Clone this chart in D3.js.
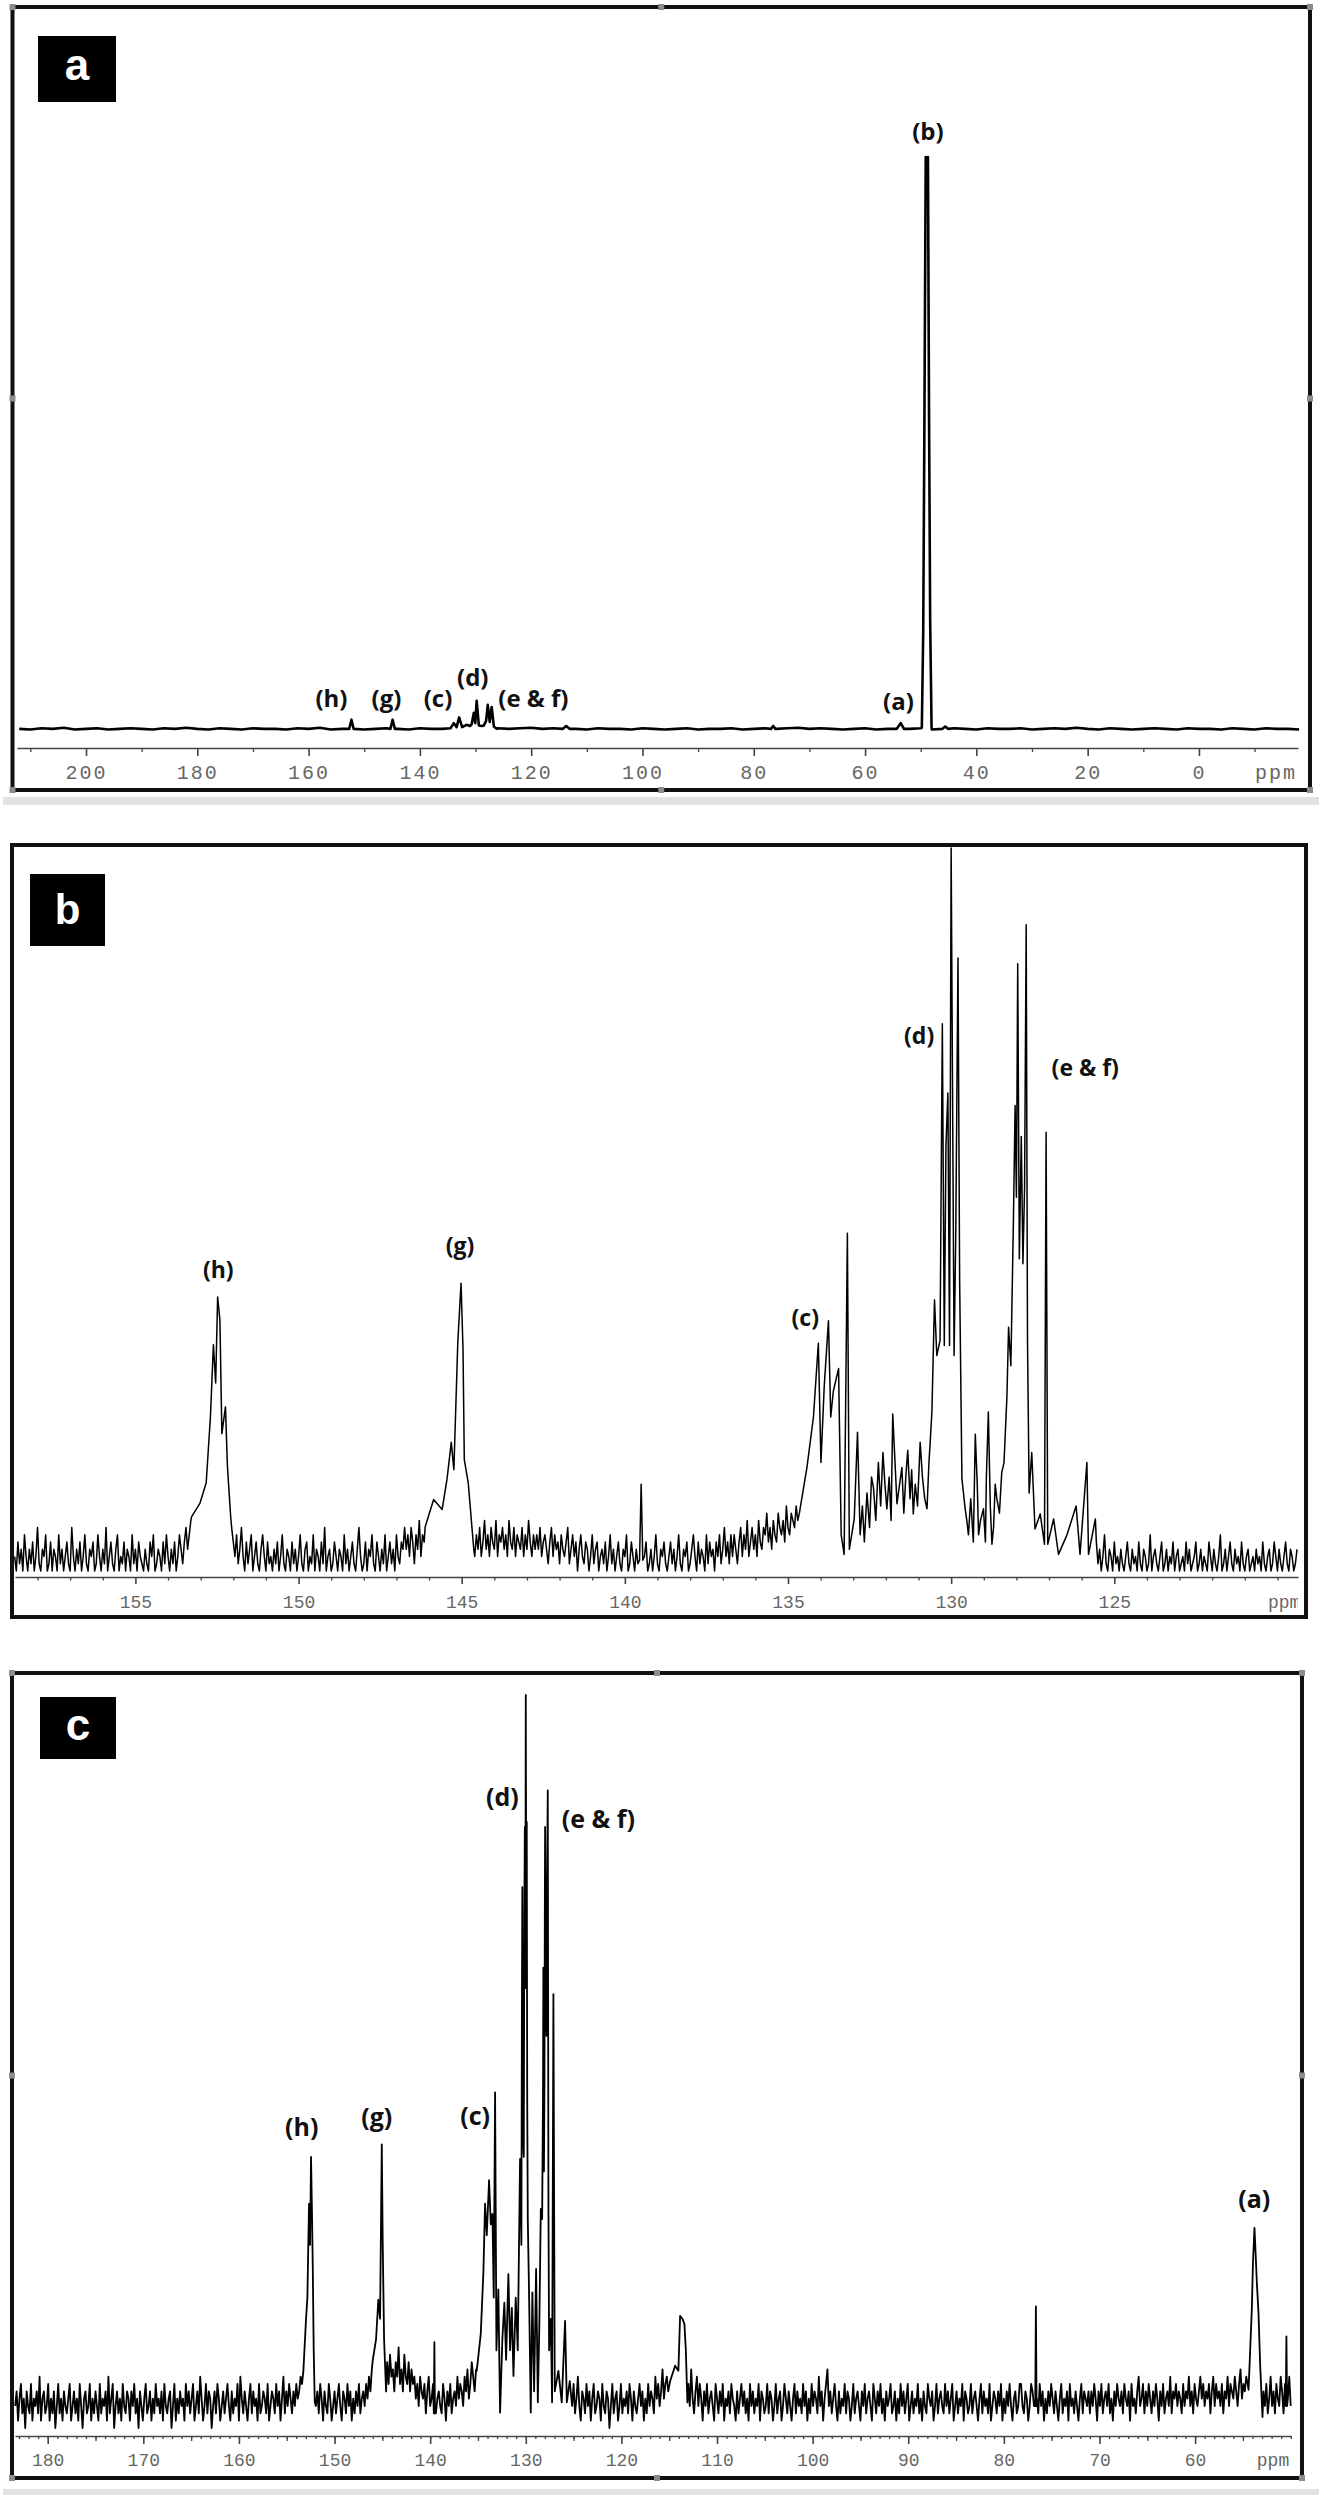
<!DOCTYPE html>
<html>
<head>
<meta charset="utf-8">
<script src="https://cdn.jsdelivr.net/npm/d3@7"></script>
<style>
  body { margin: 0; background: #fff; }
  svg { display: block; }
</style>
</head>
<body>
<svg id="chart" width="1322" height="2495"></svg>
<script>
// ---------- panel a : full range spectrum ----------
var aMajorTicks = [200, 180, 160, 140, 120, 100, 80, 60, 40, 20, 0];
var aMinorTicks = [210, 190, 170, 150, 130, 110, 90, 70, 50, 30, 10, -10];
// baseline jitter, one value every 2 ppm starting at 212 ppm
var aNoiseStep = 2;
var aNoiseStarts = [212];
var aNoise = [[
  0.2,0.1,0.3,0.2,0.4,0.1,0.2,0.3,0.1,0.2,
  0.3,0.2,0.1,0.3,0.2,0.4,0.2,0.1,0.3,0.2,
  0.1,0.3,0.2,0.2,0.1,0.3,0.2,0.4,0.1,0.2,
  0.3,0.1,0.2,0.3,0.2,0.1,0.3,0.2,0.2,0.4,
  0.3,0.2,0.4,0.3,0.2,0.3,0.4,0.2,0.3,0.2,
  0.2,0.1,0.3,0.2,0.2,0.1,0.3,0.2,0.1,0.2,
  0.3,0.1,0.2,0.2,0.3,0.1,0.2,0.3,0.2,0.3,
  0.4,0.2,0.3,0.2,0.1,0.2,0.3,0.1,0.2,0.3,
  0.2,0.3,0.1,0.2,0.3,0.2,0.1,0.3,0.2,0.2,
  0.3,0.1,0.2,0.3,0.2,0.4,0.2,0.1,0.3,0.2,
  0.1,0.2,0.3,0.2,0.1,0.3,0.2,0.2,0.1,0.3,
  0.2,0.1,0.3,0.2,0.2,0.1
]];
// peaks as [ppm, intensity] (tallest = 100)
var aPeaks = [
  [[152.7, 0.2], [152.3, 1.8], [151.9, 0.2]],
  [[145.3, 0.2], [144.9, 1.8], [144.5, 0.2]],
  [[134.5, 0.3], [133.9, 1.2], [133.4, 0.5], [132.95, 2.2], [132.4, 0.5], [131.6, 0.9], [131.0, 0.7]],
  [[130.7, 1.0], [130.3, 3.0], [130.05, 1.2], [129.8, 5.1], [129.4, 0.8], [128.9, 0.7]],
  [[128.5, 0.8], [128.1, 1.6], [127.8, 4.4], [127.45, 1.4], [127.1, 4.0], [126.7, 0.6], [126.2, 0.2]],
  [[114.3, 0.2], [113.7, 0.7], [113.1, 0.2]],
  [[76.9, 0.2], [76.5, 0.7], [76.1, 0.2]],
  [[54.3, 0.2], [53.6, 1.2], [53.0, 0.2]],
  [[49.8, 0.4], [49.55, 17], [49.35, 51], [49.1, 100], [48.9, 97], [48.7, 100], [48.5, 54.5], [48.3, 19], [48.05, 0.4]],
  [[46.1, 0.2], [45.6, 0.6], [45.1, 0.2]]
];
var aLabels = [
  ["(h)", 155.9, 5.2], ["(g)", 146.0, 5.2], ["(c)", 136.75, 5.2], ["(d)", 130.5, 8.9],
  ["(e & f)", 119.6, 5.2], ["(a)", 54.0, 4.7], ["(b)", 48.7, 104.2]
];

// ---------- panel b : aromatic region ----------
var bMajorTicks = [155, 150, 145, 140, 135, 130, 125];
var bMinorTicks = [158, 157, 156, 154, 153, 152, 151, 149, 148, 147, 146, 144, 143, 142, 141,
  139, 138, 137, 136, 134, 133, 132, 131, 129, 128, 127, 126, 124, 123, 122, 121, 120];
// noise read every 0.05 ppm, in stretches between the peaks
var bNoiseStep = 0.05;
var bNoiseStarts = [158.7, 152.05, 144.6, 125.55];
var bNoise = [
  [2,0,4,1,3,0,5,2,0,3,1,4,0,2,6,1,0,3,2,5,0,1,4,0,3,2,0,5,1,3,0,2,4,1,0,6,2,0,3,1,
   4,0,2,5,1,0,3,2,4,0,1,5,2,0,3,1,6,0,2,4,1,0,3,5,0,2,1,4,0,3,2,0,5,1,3,0,4,2,1,0,
   3,1,0,4,2,5,0,1,3,2,0,4,1,5,2,0,3,1,4,0,2,5,3,1,4,6,3,5,7],
  [6,4,2,5,1,3,6,2,0,4,1,3,5,0,2,4,1,0,3,5,2,0,4,1,2,0,3,
   1,4,0,2,5,1,0,3,2,0,4,1,3,0,2,5,1,0,3,4,0,2,1,5,0,3,2,0,4,1,6,0,2,3,0,1,4,2,0,3,
   2,0,5,1,3,0,2,4,1,0,3,6,2,0,1,4,0,3,2,5,1,0,4,2,0,3,1,5,0,2,4,1,3,0,5,2,1,4,3,6,
   3,5,2,6,4,1,5,3,7,2,5,4],
  [2,5,3,6,2,4,7,3,5,2,6,4,3,7,2,5,4,6,3,5,2,7,4,3,6,2,5,4,3,6,2,5,3,7,4,2,5,3,
   5,3,6,2,4,5,3,1,4,6,2,5,3,4,1,5,3,2,4,6,1,3,5,2,4,0,3,5,2,1,4,3,0,2,5,1,3,4,0,2,
   3,1,4,0,2,5,1,3,0,2,4,1,0,3,2,5,0,1,4,2,0,3,1,0,0,0,2,4,0,1,3,0,2,5,1,0,3,2,4,1,
   0,2,4,1,3,0,2,5,1,0,3,2,4,0,1,3,5,2,0,4,1,3,2,0,5,1,4,2,3,0,4,2,5,1,3,6,2,4,1,5,
   2,5,3,1,4,6,2,5,3,7,2,4,6,3,5,2,7,4,3,6,5,8,4,6,3,7,5,4,8,6,5,7,4,9,6,5,8,7,6,9,
   7,8],
  [4,1,3,0,2,5,1,0,3,2,0,4,1,2,0,3,1,
   0,2,4,1,0,3,1,2,0,4,1,0,3,2,0,1,5,0,2,3,1,0,2,4,0,1,3,0,2,1,4,0,2,3,0,1,2,0,4,1,
   3,0,1,2,4,0,1,3,0,2,1,0,4,2,0,3,1,0,2,5,0,1,3,0,2,4,1,0,3,1,2,0,4,1,0,2,3,0,1,2,
   0,3,1,2,0,4,1,0,2,3,0,1,4,2,0,3,1,0,2,4,1,0,3,2,0,1,3]
];
var bPeaks = [
  [[153.28, 7.5], [153.02, 9.4], [152.83, 12.2], [152.70, 21.4], [152.61, 31.3], [152.54, 26],
   [152.48, 37.9], [152.41, 34.7], [152.35, 19], [152.24, 22.7], [152.18, 14.5], [152.08, 7.5]],
  [[146.12, 6.1], [145.86, 9.9], [145.6, 8.5], [145.45, 12.7], [145.32, 17.8], [145.24, 14],
   [145.12, 31.6], [145.02, 39.8], [144.96, 30.7], [144.92, 15.4], [144.80, 12.2], [144.63, 3]],
  [[139.55, 1.5], [139.5, 12], [139.45, 1.5]],
  [[134.63, 8.6], [134.42, 14.3], [134.22, 21.3], [134.07, 31.5], [133.99, 15], [133.89, 25.5],
   [133.76, 34.6], [133.69, 21.3], [133.61, 24.9], [133.45, 28], [133.37, 5], [133.28, 2.3],
   [133.18, 46.7], [133.12, 3], [132.97, 7.2], [132.87, 19.2], [132.79, 5], [132.72, 9],
   [132.66, 4], [132.58, 10.8], [132.5, 6], [132.44, 13], [132.38, 11.5], [132.31, 7],
   [132.23, 15], [132.16, 9], [132.09, 16.4], [132.03, 12], [131.97, 8.6], [131.9, 13],
   [131.84, 7], [131.79, 21.7], [131.72, 15], [131.66, 9.3], [131.58, 12], [131.51, 14.3],
   [131.45, 8], [131.39, 13], [131.33, 16.7], [131.26, 10], [131.21, 14], [131.16, 7.9],
   [131.1, 12], [131.03, 9], [130.95, 17.8], [130.88, 13], [130.81, 10], [130.74, 8.6],
   [130.68, 15], [130.64, 18], [130.59, 22],
   [130.51, 37.5], [130.44, 29.8], [130.34, 31.9], [130.27, 75.7], [130.21, 31.2], [130.16, 58.7],
   [130.10, 66.1], [130.05, 31.2], [130.0, 100], [129.95, 60.8], [129.91, 29.8], [129.86, 46],
   [129.79, 84.8], [129.74, 40.3], [129.67, 12.8], [129.57, 8.6], [129.52, 7], [129.47, 5],
   [129.4, 10], [129.32, 4], [129.26, 18.9], [129.2, 12], [129.16, 5], [129.1, 7], [129.01, 8.6],
   [128.95, 4], [128.92, 13], [128.86, 22], [128.8, 9], [128.75, 3.7], [128.7, 6], [128.65, 12],
   [128.6, 10], [128.52, 8], [128.45, 13.6], [128.38, 15],
   [128.29, 24.2], [128.24, 33.7], [128.17, 28.4], [128.09, 48.9], [128.04, 64.4], [128.0, 51.7],
   [127.96, 84], [127.91, 43.2], [127.85, 60.1], [127.8, 42.5], [127.75, 53], [127.7, 89.4],
   [127.66, 31.9], [127.61, 10.8], [127.53, 16.4], [127.43, 5.8], [127.27, 7.9], [127.14, 3.7],
   [127.09, 60.7], [127.04, 3.7], [126.86, 7.2], [126.71, 2.3], [126.45, 5], [126.17, 9],
   [126.05, 2.3], [125.84, 15], [125.79, 2.3], [125.58, 7.2]]
];
var bLabels = [
  ["(h)", 152.46, 41.5], ["(g)", 145.05, 44.8], ["(c)", 134.47, 34.9],
  ["(d)", 130.98, 73.9], ["(e & f)", 125.89, 69.4]
];

// ---------- panel c : 183 - 50 ppm ----------
var cMajorTicks = [180, 170, 160, 150, 140, 130, 120, 110, 100, 90, 80, 70, 60];
var cMidTicks = [175, 165, 155, 145, 135, 125, 115, 105, 95, 85, 75, 65, 55];
var cMinorTicks = d3.range(50, 184);
// noise read every 0.15 ppm, in stretches between the peaks
var cNoiseStep = 0.15;
var cNoiseStarts = [183.4, 151.95, 144.5, 125.3, 113.0, 52.85];
var cNoise = [
  [3,5,1,4,6,2,4,0,5,3,2,6,1,4,3,5,2,7,1,4,
   5,2,3,6,1,4,2,5,0,3,6,2,4,1,5,3,2,4,6,1,
   3,5,2,4,1,6,3,0,4,5,2,3,6,1,4,2,5,3,1,6,
   2,4,3,5,1,7,2,4,6,0,3,5,2,4,1,6,3,2,5,4,
   1,5,3,6,2,4,0,5,3,1,4,6,2,3,5,1,4,2,6,3,
   4,2,5,1,6,3,2,4,5,0,3,6,1,4,2,5,3,4,1,6,
   3,5,2,4,6,1,3,5,2,7,4,1,3,6,2,5,4,0,3,5,
   2,6,4,1,3,5,2,4,6,3,1,5,2,4,3,6,1,7,4,2,
   5,3,1,4,6,2,5,3,4,1,6,2,3,5,4,2,6,1,3,5,
   4,2,6,3,5,1,4,7,2,5,3,6,4,2,5,3,6,4,5,7,
   6],
  [3,5,2,6,4,1,5,3,2,6,4,1,3,5,2,4,6,3,1,5,
   4,2,6,3,5,1,4,2,5,3,6,2,4,5,3,6,4,7,5,8],
  [9,6,10,7,8,5,9,7,11,6,8,5,10,7,6,9,5,8,6,7,
   4,6,3,7,5,4,6,2,5,7,3,4,6,0,2,4,5,3,2,6,
   4,1,5,3,6,2,4,5,3,7,4,6,5,3,7,5,8,4,6,9,
   7,5,8],
  [5,3,6,2,4,7,3,1,5,4,2,6,3,5,1,4,6,2,3,5,
   4,1,6,3,2,5,4,0,3,6,2,4,5,1,3,6,2,4,3,5,
   2,6,4,1,5,3,2,4,6,3,5,1,4,2,6,3,5,4,2,7,
   4,6,3,5,8,4,6,7,5],
  [6,3,8,4,2,5,7,3,6,4,1,5,3,6,2,4,5,3,1,6,
   4,2,5,3,6,1,4,3,5,2,6,4,3,1,5,2,4,6,3,5,
   2,4,1,6,3,5,2,4,3,6,1,5,4,2,3,6,2,5,4,1,
   3,6,2,4,5,1,3,6,4,2,5,3,1,4,6,2,5,3,4,2,
   6,3,5,1,4,2,6,3,5,4,2,7,3,5,1,4,6,8,3,5,
   2,4,6,3,1,5,2,4,3,6,2,5,4,1,3,6,2,4,5,3,
   1,5,3,6,2,4,5,3,1,6,4,2,5,3,6,2,4,1,5,3,
   4,6,2,3,5,1,4,2,6,3,5,2,4,6,1,3,5,2,4,3,
   6,2,4,1,5,3,2,6,4,3,5,1,3,6,2,4,5,3,2,6,
   3,5,2,4,6,1,3,5,2,4,3,6,1,5,4,2,3,6,2,4,
   5,3,1,4,6,2,5,3,4,2,6,1,3,5,4,2,5,3,6,1,
   4,2,5,3,6,3,1,4,5,2,3,6,6,3,2,5,4,1,3,6,
   5,3,0,4,2,6,3,5,1,4,2,5,3,6,4,2,5,3,1,4,
   6,2,4,3,5,1,6,3,4,2,5,3,1,4,6,2,5,4,3,5,
   2,5,3,6,4,1,5,3,6,2,4,5,3,6,2,4,1,5,3,6,
   4,3,5,2,6,4,3,5,1,6,3,4,2,5,7,3,4,6,2,5,
   3,6,4,2,5,3,6,4,1,5,3,6,2,4,5,3,7,2,5,4,
   6,3,5,4,2,6,3,5,4,7,3,5,2,6,4,3,5,7,4,6,
   3,5,4,6,2,5,7,3,6,4,5,3,6,2,5,4,7,3,6,5,
   4,7,5,3,6,8,4,6,5,7,6],
  [5,3,6,2,4,7,3,5,2,6,4,3,7,5,2,6,0,4,7,3]
];
var cPeaks = [
  [[153.26, 7.8], [152.98, 14.9], [152.84, 17.8], [152.67, 30.6], [152.56, 25], [152.46, 37],
   [152.35, 28.5], [152.28, 22.1], [152.18, 10.6], [152.07, 3.5]],
  [[146.0, 9.3], [145.66, 12.1], [145.42, 17.5], [145.24, 14.9], [145.06, 38.7], [144.96, 25],
   [144.82, 12.1], [144.61, 5]],
  [[139.62, 2], [139.56, 11.7], [139.5, 2]],
  [[135.13, 7.8], [134.71, 12.8], [134.43, 21.4], [134.26, 30.6], [134.08, 26.3], [133.84, 33.8],
   [133.66, 27.8], [133.49, 29.2], [133.35, 17.8], [133.21, 45.8], [133.07, 10.6], [132.87, 18.9],
   [132.69, 2.1], [132.45, 12.1], [132.24, 17.1], [132.06, 9.3], [131.82, 21], [131.64, 10.6],
   [131.46, 16.4], [131.29, 7.1], [131.05, 17.8], [130.84, 10.6], [130.6, 36.7], [130.46, 25],
   [130.41, 55], [130.36, 73.8], [130.3, 40], [130.21, 37], [130.15, 70], [130.1, 82],
   [130.05, 60], [130.0, 100], [129.95, 70], [129.9, 82.7], [129.85, 45], [129.79, 28.5],
   [129.65, 17.8], [129.48, 2.1], [129.31, 18.5], [129.13, 5], [128.92, 21.7], [128.74, 3.5],
   [128.58, 14.2], [128.43, 29.9], [128.29, 28.5], [128.2, 45], [128.16, 62.8], [128.1, 35],
   [128.05, 46.4], [128.01, 70], [127.98, 82], [127.91, 60], [127.84, 53.5], [127.77, 75],
   [127.7, 87], [127.63, 30], [127.56, 10.6], [127.38, 14.9], [127.25, 3.5], [127.11, 59.2],
   [126.97, 5], [126.59, 7.8], [126.24, 3.5], [125.89, 14.6], [125.71, 3.5], [125.4, 6.4]],
  [[114.9, 6.4], [114.38, 8.5], [114.04, 7.8], [113.86, 15.3], [113.62, 14.9], [113.41, 14.2],
   [113.26, 10.6], [113.1, 3.5]],
  [[76.72, 3], [76.65, 16.6], [76.58, 3]],
  [[54.41, 5.2], [54.24, 10.6], [54.06, 16.5], [53.95, 22.5], [53.79, 27.3], [53.64, 22.9],
   [53.54, 19.8], [53.37, 15.7], [53.19, 8.4], [52.95, 1.5]],
  [[50.52, 3], [50.45, 12.5], [50.38, 3]]
];
var cLabels = [
  ["(h)", 153.43, 40.9], ["(g)", 145.59, 42.2], ["(c)", 135.3, 42.4],
  ["(d)", 132.45, 85.9], ["(e & f)", 122.41, 82.9], ["(a)", 53.82, 31.1]
];

var svg = d3.select("#chart");

// merge the noise stretches with the peak groups, noise inside a peak is dropped
function buildTrace(segments, starts, step, groups) {
  var ranges = groups.map(function(g) { return d3.extent(g, function(d) { return d[0]; }); });
  var pts = [];
  segments.forEach(function(seg, s) {
    seg.forEach(function(v, i) {
      var ppm = starts[s] - i * step;
      var inside = ranges.some(function(r) { return ppm >= r[0] - 1e-6 && ppm <= r[1] + 1e-6; });
      if (!inside) pts.push([ppm, v]);
    });
  });
  groups.forEach(function(g) { g.forEach(function(d) { pts.push(d); }); });
  pts.sort(function(p, q) { return q[0] - p[0]; });
  return pts;
}

function drawPanel(p) {
  var g = svg.append("g");

  // light grey strip under the screenshot
  if (p.band) {
    g.append("rect").attr("x", 3).attr("y", p.band[0]).attr("width", 1316)
      .attr("height", p.band[1]).attr("fill", "#e2e2e2");
  }

  var x = d3.scaleLinear().domain(p.domain).range([p.left, p.right]);
  var y = d3.scaleLinear().domain([0, 100]).range([p.base, p.top]);

  // clip to the inside of the frame
  svg.append("clipPath").attr("id", "clip-" + p.name)
    .append("rect")
    .attr("x", p.frame[0] + 2).attr("y", p.frame[1] + 2)
    .attr("width", p.clipRight - p.frame[0] - 2)
    .attr("height", p.frame[3] - p.frame[1] - 4);

  // spectrum trace
  var pts = buildTrace(p.noise, p.noiseStarts, p.noiseStep, p.peaks);
  var line = d3.line()
    .x(function(d) { return x(d[0]); })
    .y(function(d) { return y(d[1]); });
  g.append("path")
    .datum(pts)
    .attr("clip-path", "url(#clip-" + p.name + ")")
    .attr("d", line)
    .attr("fill", "none")
    .attr("stroke", "#000")
    .attr("stroke-width", p.lw)
    .attr("stroke-linejoin", "round");

  // axis: minor ticks, medium ticks, then labelled major ticks
  var minorAxis = d3.axisBottom(x).tickValues(p.minor).tickSize(p.minorLen)
    .tickFormat("").tickSizeOuter(0);
  g.append("g").attr("transform", "translate(0," + p.axisY + ")").call(minorAxis)
    .call(function(s) { s.select(".domain").remove(); })
    .selectAll("line").attr("stroke", "#444").attr("stroke-width", 1.3);

  if (p.mid) {
    var midAxis = d3.axisBottom(x).tickValues(p.mid).tickSize(5).tickFormat("").tickSizeOuter(0);
    g.append("g").attr("transform", "translate(0," + p.axisY + ")").call(midAxis)
      .call(function(s) { s.select(".domain").remove(); })
      .selectAll("line").attr("stroke", "#444").attr("stroke-width", 1.3);
  }

  var majorAxis = d3.axisBottom(x).tickValues(p.major).tickSize(p.majorLen)
    .tickPadding(p.pad).tickSizeOuter(0).tickFormat(d3.format("d"));
  var ax = g.append("g").attr("transform", "translate(0," + p.axisY + ")").call(majorAxis);
  ax.select(".domain").attr("stroke", "#444").attr("stroke-width", 1.6);
  ax.selectAll(".tick line").attr("stroke", "#444").attr("stroke-width", 1.6);
  ax.selectAll(".tick text")
    .attr("fill", "#666")
    .style("font-family", "'Liberation Mono', 'DejaVu Sans Mono', monospace")
    .style("font-size", p.tickFont + "px")
    .style("letter-spacing", p.tickSpacing + "px");

  // unit label
  g.append("text")
    .attr("clip-path", "url(#clip-" + p.name + ")")
    .attr("x", p.ppmX).attr("y", p.ppmY)
    .attr("text-anchor", p.ppmAnchor)
    .attr("fill", "#666")
    .style("font-family", "'Liberation Mono', 'DejaVu Sans Mono', monospace")
    .style("font-size", p.tickFont + "px")
    .style("letter-spacing", p.tickSpacing + "px")
    .text("ppm");

  // peak labels
  g.selectAll(".peak-label")
    .data(p.labels)
    .enter()
    .append("text")
    .attr("class", "peak-label")
    .attr("x", function(d) { return x(d[1]); })
    .attr("y", function(d) { return y(d[2]); })
    .attr("dy", "0.3em")
    .attr("text-anchor", "middle")
    .attr("fill", "#111")
    .style("font-family", "'Open Sans', sans-serif")
    .style("font-weight", 700)
    .style("font-size", p.labelFont + "px")
    .text(function(d) { return d[0]; });

  // frame
  var f = p.frame;
  g.append("rect")
    .attr("x", f[0]).attr("y", f[1])
    .attr("width", f[2] - f[0]).attr("height", f[3] - f[1])
    .attr("fill", "none").attr("stroke", "#111").attr("stroke-width", 4);

  // little grey resize handles of the screenshot
  if (p.handles) {
    var mx = (f[0] + f[2]) / 2, my = (f[1] + f[3]) / 2;
    var hs = [[f[0], f[1]], [mx, f[1]], [f[2], f[1]], [f[0], my], [f[2], my],
              [f[0], f[3]], [mx, f[3]], [f[2], f[3]]];
    g.selectAll(".handle").data(hs).enter().append("rect")
      .attr("x", function(d) { return d[0] - 3; })
      .attr("y", function(d) { return d[1] - 3; })
      .attr("width", 6).attr("height", 6)
      .attr("fill", "#8c8c8c");
  }

  // black tag with the panel letter
  g.append("rect")
    .attr("x", p.tag[0]).attr("y", p.tag[1])
    .attr("width", p.tag[2]).attr("height", p.tag[3])
    .attr("fill", "#000");
  g.append("text")
    .attr("x", p.tag[0] + p.tag[2] / 2).attr("y", p.tagBase)
    .attr("text-anchor", "middle")
    .attr("fill", "#fff")
    .style("font-family", "'Liberation Sans', Arial, sans-serif")
    .style("font-weight", 700)
    .style("font-size", p.tagFont + "px")
    .text(p.name);
}

drawPanel({
  name: "a", frame: [12.5, 7, 1310, 790], clipRight: 1308, band: [797, 8], handles: true,
  domain: [212.4, -17.8], left: 17, right: 1298, base: 730, top: 157,
  noise: aNoise, noiseStarts: aNoiseStarts, noiseStep: aNoiseStep, peaks: aPeaks, lw: 2.6,
  axisY: 748, major: aMajorTicks, minor: aMinorTicks, majorLen: 8, minorLen: 4, pad: 9,
  tickFont: 20, tickSpacing: 2, ppmX: 1276, ppmY: 779, ppmAnchor: "middle",
  labels: aLabels, labelFont: 24,
  tag: [38, 36, 78, 66], tagBase: 80, tagFont: 44
});

drawPanel({
  name: "b", frame: [12, 845, 1306, 1617], clipRight: 1298, band: null, handles: false,
  domain: [158.69, 119.37], left: 15, right: 1298, base: 1571, top: 848,
  noise: bNoise, noiseStarts: bNoiseStarts, noiseStep: bNoiseStep, peaks: bPeaks, lw: 1.5,
  axisY: 1577, major: bMajorTicks, minor: bMinorTicks, majorLen: 7, minorLen: 3.5, pad: 11,
  tickFont: 18, tickSpacing: 0, ppmX: 1268, ppmY: 1608, ppmAnchor: "start",
  labels: bLabels, labelFont: 23,
  tag: [30, 874, 75, 72], tagBase: 924, tagFont: 42
});

drawPanel({
  name: "c", frame: [12, 1673, 1302, 2478], clipRight: 1300, band: [2489, 6], handles: true,
  domain: [183.42, 49.97], left: 15, right: 1291, base: 2428, top: 1695,
  noise: cNoise, noiseStarts: cNoiseStarts, noiseStep: cNoiseStep, peaks: cPeaks, lw: 1.8,
  axisY: 2436, major: cMajorTicks, minor: cMinorTicks, mid: cMidTicks, majorLen: 8, minorLen: 3, pad: 9,
  tickFont: 18, tickSpacing: 0, ppmX: 1273, ppmY: 2466, ppmAnchor: "middle",
  labels: cLabels, labelFont: 25,
  tag: [40, 1697, 76, 62], tagBase: 1740, tagFont: 44
});
</script>
</body>
</html>
